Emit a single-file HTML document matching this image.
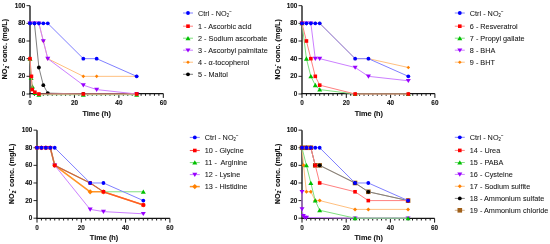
<!DOCTYPE html>
<html><head><meta charset="utf-8"><title>NO2 conc.</title>
<style>
html,body{margin:0;padding:0;background:#fff;width:550px;height:244px;overflow:hidden;}
svg{display:block;will-change:transform;}
text{font-family:"Liberation Sans",sans-serif;fill:#111;}
.tl{font-size:6.65px;font-weight:bold;stroke:#111;stroke-width:0.1px;}
.tt{font-size:7.9px;font-weight:bold;stroke:#111;stroke-width:0.1px;}
.yt{font-size:7.3px;font-weight:bold;stroke:#111;stroke-width:0.1px;}
.sub,.sup{font-size:4.8px;}
.lg{font-size:7.9px;fill:#151515;stroke:#151515;stroke-width:0.06px;}
.lsub,.lsup{font-size:4.6px;}
</style></head>
<body>
<svg width="550" height="244" viewBox="0 0 550 244">
<rect width="550" height="244" fill="#fff"/>
<path d="M30.00 5.66V94.10" stroke="#151515" stroke-width="1.35" fill="none"/>
<path d="M29.50 93.60H163.32" stroke="#151515" stroke-width="1.35" fill="none"/>
<path d="M26.50 94.00H30.00" stroke="#151515" stroke-width="0.9" fill="none"/>
<text transform="translate(25.40 96.10) scale(0.96 1)" class="tl" text-anchor="end">0</text>
<path d="M26.50 76.33H30.00" stroke="#151515" stroke-width="0.9" fill="none"/>
<text transform="translate(25.40 78.43) scale(0.96 1)" class="tl" text-anchor="end">20</text>
<path d="M26.50 58.66H30.00" stroke="#151515" stroke-width="0.9" fill="none"/>
<text transform="translate(25.40 60.76) scale(0.96 1)" class="tl" text-anchor="end">40</text>
<path d="M26.50 41.00H30.00" stroke="#151515" stroke-width="0.9" fill="none"/>
<text transform="translate(25.40 43.10) scale(0.96 1)" class="tl" text-anchor="end">60</text>
<path d="M26.50 23.33H30.00" stroke="#151515" stroke-width="0.9" fill="none"/>
<text transform="translate(25.40 25.43) scale(0.96 1)" class="tl" text-anchor="end">80</text>
<path d="M26.50 5.66H30.00" stroke="#151515" stroke-width="0.9" fill="none"/>
<text transform="translate(25.40 7.76) scale(0.96 1)" class="tl" text-anchor="end">100</text>
<path d="M30.00 93.60V97.90" stroke="#151515" stroke-width="1.0" fill="none"/>
<text transform="translate(30.00 105.40) scale(0.96 1)" class="tl" text-anchor="middle">0</text>
<path d="M34.44 93.60V95.80" stroke="#151515" stroke-width="1.0" fill="none"/>
<path d="M38.89 93.60V95.80" stroke="#151515" stroke-width="1.0" fill="none"/>
<path d="M43.33 93.60V95.80" stroke="#151515" stroke-width="1.0" fill="none"/>
<path d="M47.78 93.60V95.80" stroke="#151515" stroke-width="1.0" fill="none"/>
<path d="M52.22 93.60V95.80" stroke="#151515" stroke-width="1.0" fill="none"/>
<path d="M56.66 93.60V95.80" stroke="#151515" stroke-width="1.0" fill="none"/>
<path d="M61.11 93.60V95.80" stroke="#151515" stroke-width="1.0" fill="none"/>
<path d="M65.55 93.60V95.80" stroke="#151515" stroke-width="1.0" fill="none"/>
<path d="M70.00 93.60V95.80" stroke="#151515" stroke-width="1.0" fill="none"/>
<path d="M74.44 93.60V97.90" stroke="#151515" stroke-width="1.0" fill="none"/>
<text transform="translate(74.44 105.40) scale(0.96 1)" class="tl" text-anchor="middle">20</text>
<path d="M78.88 93.60V95.80" stroke="#151515" stroke-width="1.0" fill="none"/>
<path d="M83.33 93.60V95.80" stroke="#151515" stroke-width="1.0" fill="none"/>
<path d="M87.77 93.60V95.80" stroke="#151515" stroke-width="1.0" fill="none"/>
<path d="M92.22 93.60V95.80" stroke="#151515" stroke-width="1.0" fill="none"/>
<path d="M96.66 93.60V95.80" stroke="#151515" stroke-width="1.0" fill="none"/>
<path d="M101.10 93.60V95.80" stroke="#151515" stroke-width="1.0" fill="none"/>
<path d="M105.55 93.60V95.80" stroke="#151515" stroke-width="1.0" fill="none"/>
<path d="M109.99 93.60V95.80" stroke="#151515" stroke-width="1.0" fill="none"/>
<path d="M114.44 93.60V95.80" stroke="#151515" stroke-width="1.0" fill="none"/>
<path d="M118.88 93.60V97.90" stroke="#151515" stroke-width="1.0" fill="none"/>
<text transform="translate(118.88 105.40) scale(0.96 1)" class="tl" text-anchor="middle">40</text>
<path d="M123.32 93.60V95.80" stroke="#151515" stroke-width="1.0" fill="none"/>
<path d="M127.77 93.60V95.80" stroke="#151515" stroke-width="1.0" fill="none"/>
<path d="M132.21 93.60V95.80" stroke="#151515" stroke-width="1.0" fill="none"/>
<path d="M136.66 93.60V95.80" stroke="#151515" stroke-width="1.0" fill="none"/>
<path d="M141.10 93.60V95.80" stroke="#151515" stroke-width="1.0" fill="none"/>
<path d="M145.54 93.60V95.80" stroke="#151515" stroke-width="1.0" fill="none"/>
<path d="M149.99 93.60V95.80" stroke="#151515" stroke-width="1.0" fill="none"/>
<path d="M154.43 93.60V95.80" stroke="#151515" stroke-width="1.0" fill="none"/>
<path d="M158.88 93.60V95.80" stroke="#151515" stroke-width="1.0" fill="none"/>
<path d="M163.32 93.60V97.90" stroke="#151515" stroke-width="1.0" fill="none"/>
<text transform="translate(163.32 105.40) scale(0.96 1)" class="tl" text-anchor="middle">60</text>
<text transform="translate(96.66 115.55) scale(0.93 1)" class="tt" text-anchor="middle">Time (h)</text>
<text transform="translate(7.30 49.10) rotate(-90)" class="yt" text-anchor="middle">NO<tspan class="sub" dy="1.4">2</tspan><tspan class="sup" dy="-4.2">-</tspan><tspan dy="2.8"> conc. (mg/L)</tspan></text>
<path d="M30.00 23.33L34.44 23.33L38.89 67.50L43.33 85.17L47.78 93.12L83.33 94.00L136.66 94.00" fill="none" stroke="#808080" stroke-width="1.0" stroke-linejoin="round"/>
<circle cx="30.00" cy="23.33" r="1.9" fill="#000000"/>
<circle cx="34.44" cy="23.33" r="1.9" fill="#000000"/>
<circle cx="38.89" cy="67.50" r="1.9" fill="#000000"/>
<circle cx="43.33" cy="85.17" r="1.9" fill="#000000"/>
<circle cx="47.78" cy="93.12" r="1.9" fill="#000000"/>
<circle cx="83.33" cy="94.00" r="1.9" fill="#000000"/>
<circle cx="136.66" cy="94.00" r="1.9" fill="#000000"/>
<path d="M30.00 23.33L34.44 23.33L38.89 23.33L43.33 41.00L47.78 58.66L83.33 76.33L96.66 76.33L136.66 76.33" fill="none" stroke="#ffc080" stroke-width="1.0" stroke-linejoin="round"/>
<path d="M30.00 21.53L31.80 23.33L30.00 25.13L28.20 23.33Z" fill="#ff8000"/>
<path d="M34.44 21.53L36.24 23.33L34.44 25.13L32.64 23.33Z" fill="#ff8000"/>
<path d="M38.89 21.53L40.69 23.33L38.89 25.13L37.09 23.33Z" fill="#ff8000"/>
<path d="M43.33 39.20L45.13 41.00L43.33 42.80L41.53 41.00Z" fill="#ff8000"/>
<path d="M47.78 56.86L49.58 58.66L47.78 60.46L45.98 58.66Z" fill="#ff8000"/>
<path d="M83.33 74.53L85.13 76.33L83.33 78.13L81.53 76.33Z" fill="#ff8000"/>
<path d="M96.66 74.53L98.46 76.33L96.66 78.13L94.86 76.33Z" fill="#ff8000"/>
<path d="M136.66 74.53L138.46 76.33L136.66 78.13L134.86 76.33Z" fill="#ff8000"/>
<path d="M30.00 23.33L34.44 23.33L38.89 23.33L43.33 41.00L47.78 58.66L83.33 85.17L96.66 89.58L136.66 94.00" fill="none" stroke="#cc80ff" stroke-width="1.0" stroke-linejoin="round"/>
<path d="M30.00 25.63L32.50 21.53L27.50 21.53Z" fill="#9900ff"/>
<path d="M34.44 25.63L36.94 21.53L31.94 21.53Z" fill="#9900ff"/>
<path d="M38.89 25.63L41.39 21.53L36.39 21.53Z" fill="#9900ff"/>
<path d="M43.33 43.30L45.83 39.20L40.83 39.20Z" fill="#9900ff"/>
<path d="M47.78 60.96L50.28 56.86L45.28 56.86Z" fill="#9900ff"/>
<path d="M83.33 87.47L85.83 83.37L80.83 83.37Z" fill="#9900ff"/>
<path d="M96.66 91.88L99.16 87.78L94.16 87.78Z" fill="#9900ff"/>
<path d="M136.66 96.30L139.16 92.20L134.16 92.20Z" fill="#9900ff"/>
<path d="M30.00 58.66L31.11 78.10L32.44 86.49L34.89 92.94L38.89 94.71L83.33 94.71L136.66 94.71" fill="none" stroke="#80e080" stroke-width="1.0" stroke-linejoin="round"/>
<path d="M30.00 56.36L32.50 60.66L27.50 60.66Z" fill="#00c000"/>
<path d="M31.11 75.80L33.61 80.10L28.61 80.10Z" fill="#00c000"/>
<path d="M32.44 84.19L34.94 88.49L29.94 88.49Z" fill="#00c000"/>
<path d="M34.89 90.64L37.39 94.94L32.39 94.94Z" fill="#00c000"/>
<path d="M38.89 92.41L41.39 96.71L36.39 96.71Z" fill="#00c000"/>
<path d="M83.33 92.41L85.83 96.71L80.83 96.71Z" fill="#00c000"/>
<path d="M136.66 92.41L139.16 96.71L134.16 96.71Z" fill="#00c000"/>
<path d="M30.00 58.66L31.44 76.33L32.22 89.58L34.89 92.23L38.89 94.00L83.33 94.00L136.66 94.00" fill="none" stroke="#ff8080" stroke-width="1.0" stroke-linejoin="round"/>
<rect x="28.20" y="56.86" width="3.60" height="3.60" fill="#ff0000"/>
<rect x="29.64" y="74.53" width="3.60" height="3.60" fill="#ff0000"/>
<rect x="30.42" y="87.78" width="3.60" height="3.60" fill="#ff0000"/>
<rect x="33.09" y="90.43" width="3.60" height="3.60" fill="#ff0000"/>
<rect x="37.09" y="92.20" width="3.60" height="3.60" fill="#ff0000"/>
<rect x="81.53" y="92.20" width="3.60" height="3.60" fill="#ff0000"/>
<rect x="134.86" y="92.20" width="3.60" height="3.60" fill="#ff0000"/>
<path d="M30.00 23.33L34.44 23.33L38.89 23.33L43.33 23.33L47.78 23.33L83.33 58.66L96.66 58.66L136.66 76.33" fill="none" stroke="#8080ff" stroke-width="1.0" stroke-linejoin="round"/>
<circle cx="30.00" cy="23.33" r="1.9" fill="#0000ff"/>
<circle cx="34.44" cy="23.33" r="1.9" fill="#0000ff"/>
<circle cx="38.89" cy="23.33" r="1.9" fill="#0000ff"/>
<circle cx="43.33" cy="23.33" r="1.9" fill="#0000ff"/>
<circle cx="47.78" cy="23.33" r="1.9" fill="#0000ff"/>
<circle cx="83.33" cy="58.66" r="1.9" fill="#0000ff"/>
<circle cx="96.66" cy="58.66" r="1.9" fill="#0000ff"/>
<circle cx="136.66" cy="76.33" r="1.9" fill="#0000ff"/>
<path d="M183.00 13.00H193.00" stroke="#8080ff" stroke-width="1.0" fill="none"/>
<circle cx="188.00" cy="13.00" r="1.9" fill="#0000ff"/>
<text transform="translate(198.00 15.50) scale(0.925 1)" class="lg">Ctrl - NO<tspan class="lsub" dy="1.3">2</tspan><tspan class="lsup" dy="-4.3">−</tspan></text>
<path d="M183.00 26.20H193.00" stroke="#ff8080" stroke-width="1.0" fill="none"/>
<rect x="186.20" y="24.40" width="3.60" height="3.60" fill="#ff0000"/>
<text transform="translate(198.00 28.70) scale(0.925 1)" class="lg">1 - Ascorbic acid</text>
<path d="M183.00 38.20H193.00" stroke="#80e080" stroke-width="1.0" fill="none"/>
<path d="M188.00 35.90L190.50 40.20L185.50 40.20Z" fill="#00c000"/>
<text transform="translate(198.00 40.70) scale(0.925 1)" class="lg">2 - Sodium ascorbate</text>
<path d="M183.00 50.20H193.00" stroke="#cc80ff" stroke-width="1.0" fill="none"/>
<path d="M188.00 52.50L190.50 48.40L185.50 48.40Z" fill="#9900ff"/>
<text transform="translate(198.00 52.70) scale(0.925 1)" class="lg">3 - Ascorbyl palmitate</text>
<path d="M183.00 62.20H193.00" stroke="#ffc080" stroke-width="1.0" fill="none"/>
<path d="M188.00 60.40L189.80 62.20L188.00 64.00L186.20 62.20Z" fill="#ff8000"/>
<text transform="translate(198.00 64.70) scale(0.925 1)" class="lg">4 - α-tocopherol</text>
<path d="M183.00 74.30H193.00" stroke="#808080" stroke-width="1.0" fill="none"/>
<circle cx="188.00" cy="74.30" r="1.9" fill="#000000"/>
<text transform="translate(198.00 76.80) scale(0.925 1)" class="lg">5 - Maltol</text>
<path d="M302.00 5.66V94.10" stroke="#151515" stroke-width="1.35" fill="none"/>
<path d="M301.50 93.60H434.90" stroke="#151515" stroke-width="1.35" fill="none"/>
<path d="M298.50 94.00H302.00" stroke="#151515" stroke-width="0.9" fill="none"/>
<text transform="translate(297.40 96.10) scale(0.96 1)" class="tl" text-anchor="end">0</text>
<path d="M298.50 76.33H302.00" stroke="#151515" stroke-width="0.9" fill="none"/>
<text transform="translate(297.40 78.43) scale(0.96 1)" class="tl" text-anchor="end">20</text>
<path d="M298.50 58.66H302.00" stroke="#151515" stroke-width="0.9" fill="none"/>
<text transform="translate(297.40 60.76) scale(0.96 1)" class="tl" text-anchor="end">40</text>
<path d="M298.50 41.00H302.00" stroke="#151515" stroke-width="0.9" fill="none"/>
<text transform="translate(297.40 43.10) scale(0.96 1)" class="tl" text-anchor="end">60</text>
<path d="M298.50 23.33H302.00" stroke="#151515" stroke-width="0.9" fill="none"/>
<text transform="translate(297.40 25.43) scale(0.96 1)" class="tl" text-anchor="end">80</text>
<path d="M298.50 5.66H302.00" stroke="#151515" stroke-width="0.9" fill="none"/>
<text transform="translate(297.40 7.76) scale(0.96 1)" class="tl" text-anchor="end">100</text>
<path d="M302.00 93.60V97.90" stroke="#151515" stroke-width="1.0" fill="none"/>
<text transform="translate(302.00 105.40) scale(0.96 1)" class="tl" text-anchor="middle">0</text>
<path d="M306.43 93.60V95.80" stroke="#151515" stroke-width="1.0" fill="none"/>
<path d="M310.86 93.60V95.80" stroke="#151515" stroke-width="1.0" fill="none"/>
<path d="M315.29 93.60V95.80" stroke="#151515" stroke-width="1.0" fill="none"/>
<path d="M319.72 93.60V95.80" stroke="#151515" stroke-width="1.0" fill="none"/>
<path d="M324.15 93.60V95.80" stroke="#151515" stroke-width="1.0" fill="none"/>
<path d="M328.58 93.60V95.80" stroke="#151515" stroke-width="1.0" fill="none"/>
<path d="M333.01 93.60V95.80" stroke="#151515" stroke-width="1.0" fill="none"/>
<path d="M337.44 93.60V95.80" stroke="#151515" stroke-width="1.0" fill="none"/>
<path d="M341.87 93.60V95.80" stroke="#151515" stroke-width="1.0" fill="none"/>
<path d="M346.30 93.60V97.90" stroke="#151515" stroke-width="1.0" fill="none"/>
<text transform="translate(346.30 105.40) scale(0.96 1)" class="tl" text-anchor="middle">20</text>
<path d="M350.73 93.60V95.80" stroke="#151515" stroke-width="1.0" fill="none"/>
<path d="M355.16 93.60V95.80" stroke="#151515" stroke-width="1.0" fill="none"/>
<path d="M359.59 93.60V95.80" stroke="#151515" stroke-width="1.0" fill="none"/>
<path d="M364.02 93.60V95.80" stroke="#151515" stroke-width="1.0" fill="none"/>
<path d="M368.45 93.60V95.80" stroke="#151515" stroke-width="1.0" fill="none"/>
<path d="M372.88 93.60V95.80" stroke="#151515" stroke-width="1.0" fill="none"/>
<path d="M377.31 93.60V95.80" stroke="#151515" stroke-width="1.0" fill="none"/>
<path d="M381.74 93.60V95.80" stroke="#151515" stroke-width="1.0" fill="none"/>
<path d="M386.17 93.60V95.80" stroke="#151515" stroke-width="1.0" fill="none"/>
<path d="M390.60 93.60V97.90" stroke="#151515" stroke-width="1.0" fill="none"/>
<text transform="translate(390.60 105.40) scale(0.96 1)" class="tl" text-anchor="middle">40</text>
<path d="M395.03 93.60V95.80" stroke="#151515" stroke-width="1.0" fill="none"/>
<path d="M399.46 93.60V95.80" stroke="#151515" stroke-width="1.0" fill="none"/>
<path d="M403.89 93.60V95.80" stroke="#151515" stroke-width="1.0" fill="none"/>
<path d="M408.32 93.60V95.80" stroke="#151515" stroke-width="1.0" fill="none"/>
<path d="M412.75 93.60V95.80" stroke="#151515" stroke-width="1.0" fill="none"/>
<path d="M417.18 93.60V95.80" stroke="#151515" stroke-width="1.0" fill="none"/>
<path d="M421.61 93.60V95.80" stroke="#151515" stroke-width="1.0" fill="none"/>
<path d="M426.04 93.60V95.80" stroke="#151515" stroke-width="1.0" fill="none"/>
<path d="M430.47 93.60V95.80" stroke="#151515" stroke-width="1.0" fill="none"/>
<path d="M434.90 93.60V97.90" stroke="#151515" stroke-width="1.0" fill="none"/>
<text transform="translate(434.90 105.40) scale(0.96 1)" class="tl" text-anchor="middle">60</text>
<text transform="translate(368.85 115.55) scale(0.93 1)" class="tt" text-anchor="middle">Time (h)</text>
<text transform="translate(279.80 49.50) rotate(-90)" class="yt" text-anchor="middle">NO<tspan class="sub" dy="1.4">2</tspan><tspan class="sup" dy="-4.2">-</tspan><tspan dy="2.8"> conc. (mg/L)</tspan></text>
<path d="M302.00 23.33L306.43 23.33L310.86 23.33L315.29 23.33L319.72 23.33L355.16 58.66L368.45 58.66L408.32 67.50" fill="none" stroke="#ffc080" stroke-width="1.0" stroke-linejoin="round"/>
<path d="M302.00 21.53L303.80 23.33L302.00 25.13L300.20 23.33Z" fill="#ff8000"/>
<path d="M306.43 21.53L308.23 23.33L306.43 25.13L304.63 23.33Z" fill="#ff8000"/>
<path d="M310.86 21.53L312.66 23.33L310.86 25.13L309.06 23.33Z" fill="#ff8000"/>
<path d="M315.29 21.53L317.09 23.33L315.29 25.13L313.49 23.33Z" fill="#ff8000"/>
<path d="M319.72 21.53L321.52 23.33L319.72 25.13L317.92 23.33Z" fill="#ff8000"/>
<path d="M355.16 56.86L356.96 58.66L355.16 60.46L353.36 58.66Z" fill="#ff8000"/>
<path d="M368.45 56.86L370.25 58.66L368.45 60.46L366.65 58.66Z" fill="#ff8000"/>
<path d="M408.32 65.70L410.12 67.50L408.32 69.30L406.52 67.50Z" fill="#ff8000"/>
<path d="M302.00 23.33L306.43 23.33L310.86 23.33L315.29 58.66L319.72 58.66L355.16 67.50L368.45 76.33L408.32 80.75" fill="none" stroke="#cc80ff" stroke-width="1.0" stroke-linejoin="round"/>
<path d="M302.00 25.63L304.50 21.53L299.50 21.53Z" fill="#9900ff"/>
<path d="M306.43 25.63L308.93 21.53L303.93 21.53Z" fill="#9900ff"/>
<path d="M310.86 25.63L313.36 21.53L308.36 21.53Z" fill="#9900ff"/>
<path d="M315.29 60.96L317.79 56.86L312.79 56.86Z" fill="#9900ff"/>
<path d="M319.72 60.96L322.22 56.86L317.22 56.86Z" fill="#9900ff"/>
<path d="M355.16 69.80L357.66 65.70L352.66 65.70Z" fill="#9900ff"/>
<path d="M368.45 78.63L370.95 74.53L365.95 74.53Z" fill="#9900ff"/>
<path d="M408.32 83.05L410.82 78.95L405.82 78.95Z" fill="#9900ff"/>
<path d="M302.00 23.33L306.43 58.66L310.86 76.33L315.29 85.17L319.72 89.58L355.16 94.00L408.32 94.00" fill="none" stroke="#80e080" stroke-width="1.0" stroke-linejoin="round"/>
<path d="M302.00 21.03L304.50 25.33L299.50 25.33Z" fill="#00c000"/>
<path d="M306.43 56.36L308.93 60.66L303.93 60.66Z" fill="#00c000"/>
<path d="M310.86 74.03L313.36 78.33L308.36 78.33Z" fill="#00c000"/>
<path d="M315.29 82.87L317.79 87.17L312.79 87.17Z" fill="#00c000"/>
<path d="M319.72 87.28L322.22 91.58L317.22 91.58Z" fill="#00c000"/>
<path d="M355.16 91.70L357.66 96.00L352.66 96.00Z" fill="#00c000"/>
<path d="M408.32 91.70L410.82 96.00L405.82 96.00Z" fill="#00c000"/>
<path d="M302.00 23.33L306.43 41.00L310.86 58.66L315.29 76.33L319.72 85.17L355.16 94.00L408.32 94.00" fill="none" stroke="#ff8080" stroke-width="1.0" stroke-linejoin="round"/>
<rect x="300.20" y="21.53" width="3.60" height="3.60" fill="#ff0000"/>
<rect x="304.63" y="39.20" width="3.60" height="3.60" fill="#ff0000"/>
<rect x="309.06" y="56.86" width="3.60" height="3.60" fill="#ff0000"/>
<rect x="313.49" y="74.53" width="3.60" height="3.60" fill="#ff0000"/>
<rect x="317.92" y="83.37" width="3.60" height="3.60" fill="#ff0000"/>
<rect x="353.36" y="92.20" width="3.60" height="3.60" fill="#ff0000"/>
<rect x="406.52" y="92.20" width="3.60" height="3.60" fill="#ff0000"/>
<path d="M302.00 23.33L306.43 23.33L310.86 23.33L315.29 23.33L319.72 23.33L355.16 58.66L368.45 58.66L408.32 76.33" fill="none" stroke="#8080ff" stroke-width="1.0" stroke-linejoin="round"/>
<circle cx="302.00" cy="23.33" r="1.9" fill="#0000ff"/>
<circle cx="306.43" cy="23.33" r="1.9" fill="#0000ff"/>
<circle cx="310.86" cy="23.33" r="1.9" fill="#0000ff"/>
<circle cx="315.29" cy="23.33" r="1.9" fill="#0000ff"/>
<circle cx="319.72" cy="23.33" r="1.9" fill="#0000ff"/>
<circle cx="355.16" cy="58.66" r="1.9" fill="#0000ff"/>
<circle cx="368.45" cy="58.66" r="1.9" fill="#0000ff"/>
<circle cx="408.32" cy="76.33" r="1.9" fill="#0000ff"/>
<path d="M454.80 13.00H464.80" stroke="#8080ff" stroke-width="1.0" fill="none"/>
<circle cx="459.80" cy="13.00" r="1.9" fill="#0000ff"/>
<text transform="translate(469.80 15.50) scale(0.925 1)" class="lg">Ctrl - NO<tspan class="lsub" dy="1.3">2</tspan><tspan class="lsup" dy="-4.3">−</tspan></text>
<path d="M454.80 26.20H464.80" stroke="#ff8080" stroke-width="1.0" fill="none"/>
<rect x="458.00" y="24.40" width="3.60" height="3.60" fill="#ff0000"/>
<text transform="translate(469.80 28.70) scale(0.925 1)" class="lg">6 - Resveratrol</text>
<path d="M454.80 38.20H464.80" stroke="#80e080" stroke-width="1.0" fill="none"/>
<path d="M459.80 35.90L462.30 40.20L457.30 40.20Z" fill="#00c000"/>
<text transform="translate(469.80 40.70) scale(0.925 1)" class="lg">7 - Propyl gallate</text>
<path d="M454.80 50.20H464.80" stroke="#cc80ff" stroke-width="1.0" fill="none"/>
<path d="M459.80 52.50L462.30 48.40L457.30 48.40Z" fill="#9900ff"/>
<text transform="translate(469.80 52.70) scale(0.925 1)" class="lg">8 - BHA</text>
<path d="M454.80 62.20H464.80" stroke="#ffc080" stroke-width="1.0" fill="none"/>
<path d="M459.80 60.40L461.60 62.20L459.80 64.00L458.00 62.20Z" fill="#ff8000"/>
<text transform="translate(469.80 64.70) scale(0.925 1)" class="lg">9 - BHT</text>
<path d="M37.00 130.15V218.80" stroke="#151515" stroke-width="1.35" fill="none"/>
<path d="M36.50 218.30H169.90" stroke="#151515" stroke-width="1.35" fill="none"/>
<path d="M33.50 218.20H37.00" stroke="#151515" stroke-width="0.9" fill="none"/>
<text transform="translate(32.40 220.30) scale(0.96 1)" class="tl" text-anchor="end">0</text>
<path d="M33.50 200.59H37.00" stroke="#151515" stroke-width="0.9" fill="none"/>
<text transform="translate(32.40 202.69) scale(0.96 1)" class="tl" text-anchor="end">20</text>
<path d="M33.50 182.98H37.00" stroke="#151515" stroke-width="0.9" fill="none"/>
<text transform="translate(32.40 185.08) scale(0.96 1)" class="tl" text-anchor="end">40</text>
<path d="M33.50 165.37H37.00" stroke="#151515" stroke-width="0.9" fill="none"/>
<text transform="translate(32.40 167.47) scale(0.96 1)" class="tl" text-anchor="end">60</text>
<path d="M33.50 147.76H37.00" stroke="#151515" stroke-width="0.9" fill="none"/>
<text transform="translate(32.40 149.86) scale(0.96 1)" class="tl" text-anchor="end">80</text>
<path d="M33.50 130.15H37.00" stroke="#151515" stroke-width="0.9" fill="none"/>
<text transform="translate(32.40 132.25) scale(0.96 1)" class="tl" text-anchor="end">100</text>
<path d="M37.00 218.30V222.60" stroke="#151515" stroke-width="1.0" fill="none"/>
<text transform="translate(37.00 229.60) scale(0.96 1)" class="tl" text-anchor="middle">0</text>
<path d="M41.43 218.30V220.50" stroke="#151515" stroke-width="1.0" fill="none"/>
<path d="M45.86 218.30V220.50" stroke="#151515" stroke-width="1.0" fill="none"/>
<path d="M50.29 218.30V220.50" stroke="#151515" stroke-width="1.0" fill="none"/>
<path d="M54.72 218.30V220.50" stroke="#151515" stroke-width="1.0" fill="none"/>
<path d="M59.15 218.30V220.50" stroke="#151515" stroke-width="1.0" fill="none"/>
<path d="M63.58 218.30V220.50" stroke="#151515" stroke-width="1.0" fill="none"/>
<path d="M68.01 218.30V220.50" stroke="#151515" stroke-width="1.0" fill="none"/>
<path d="M72.44 218.30V220.50" stroke="#151515" stroke-width="1.0" fill="none"/>
<path d="M76.87 218.30V220.50" stroke="#151515" stroke-width="1.0" fill="none"/>
<path d="M81.30 218.30V222.60" stroke="#151515" stroke-width="1.0" fill="none"/>
<text transform="translate(81.30 229.60) scale(0.96 1)" class="tl" text-anchor="middle">20</text>
<path d="M85.73 218.30V220.50" stroke="#151515" stroke-width="1.0" fill="none"/>
<path d="M90.16 218.30V220.50" stroke="#151515" stroke-width="1.0" fill="none"/>
<path d="M94.59 218.30V220.50" stroke="#151515" stroke-width="1.0" fill="none"/>
<path d="M99.02 218.30V220.50" stroke="#151515" stroke-width="1.0" fill="none"/>
<path d="M103.45 218.30V220.50" stroke="#151515" stroke-width="1.0" fill="none"/>
<path d="M107.88 218.30V220.50" stroke="#151515" stroke-width="1.0" fill="none"/>
<path d="M112.31 218.30V220.50" stroke="#151515" stroke-width="1.0" fill="none"/>
<path d="M116.74 218.30V220.50" stroke="#151515" stroke-width="1.0" fill="none"/>
<path d="M121.17 218.30V220.50" stroke="#151515" stroke-width="1.0" fill="none"/>
<path d="M125.60 218.30V222.60" stroke="#151515" stroke-width="1.0" fill="none"/>
<text transform="translate(125.60 229.60) scale(0.96 1)" class="tl" text-anchor="middle">40</text>
<path d="M130.03 218.30V220.50" stroke="#151515" stroke-width="1.0" fill="none"/>
<path d="M134.46 218.30V220.50" stroke="#151515" stroke-width="1.0" fill="none"/>
<path d="M138.89 218.30V220.50" stroke="#151515" stroke-width="1.0" fill="none"/>
<path d="M143.32 218.30V220.50" stroke="#151515" stroke-width="1.0" fill="none"/>
<path d="M147.75 218.30V220.50" stroke="#151515" stroke-width="1.0" fill="none"/>
<path d="M152.18 218.30V220.50" stroke="#151515" stroke-width="1.0" fill="none"/>
<path d="M156.61 218.30V220.50" stroke="#151515" stroke-width="1.0" fill="none"/>
<path d="M161.04 218.30V220.50" stroke="#151515" stroke-width="1.0" fill="none"/>
<path d="M165.47 218.30V220.50" stroke="#151515" stroke-width="1.0" fill="none"/>
<path d="M169.90 218.30V222.60" stroke="#151515" stroke-width="1.0" fill="none"/>
<text transform="translate(169.90 229.60) scale(0.96 1)" class="tl" text-anchor="middle">60</text>
<text transform="translate(104.05 240.25) scale(0.93 1)" class="tt" text-anchor="middle">Time (h)</text>
<text transform="translate(14.20 174.00) rotate(-90)" class="yt" text-anchor="middle">NO<tspan class="sub" dy="1.4">2</tspan><tspan class="sup" dy="-4.2">-</tspan><tspan dy="2.8"> conc. (mg/L)</tspan></text>
<path d="M37.00 147.76L41.43 147.76L45.86 147.76L50.29 147.76L54.72 165.37L90.16 191.78L103.45 191.78L143.32 204.99" fill="none" stroke="#ff9326" stroke-width="1.6" stroke-linejoin="round"/>
<path d="M37.00 145.16L39.60 147.76L37.00 150.36L34.40 147.76Z" fill="#ff8000"/>
<path d="M41.43 145.16L44.03 147.76L41.43 150.36L38.83 147.76Z" fill="#ff8000"/>
<path d="M45.86 145.16L48.46 147.76L45.86 150.36L43.26 147.76Z" fill="#ff8000"/>
<path d="M50.29 145.16L52.89 147.76L50.29 150.36L47.69 147.76Z" fill="#ff8000"/>
<path d="M54.72 162.77L57.32 165.37L54.72 167.97L52.12 165.37Z" fill="#ff8000"/>
<path d="M90.16 189.19L92.76 191.78L90.16 194.38L87.56 191.78Z" fill="#ff8000"/>
<path d="M103.45 189.19L106.05 191.78L103.45 194.38L100.85 191.78Z" fill="#ff8000"/>
<path d="M143.32 202.39L145.92 204.99L143.32 207.59L140.72 204.99Z" fill="#ff8000"/>
<path d="M37.00 147.76L41.43 147.76L45.86 147.76L50.29 147.76L54.72 165.37L90.16 209.39L103.45 211.60L143.32 213.80" fill="none" stroke="#cc80ff" stroke-width="1.0" stroke-linejoin="round"/>
<path d="M37.00 150.06L39.50 145.96L34.50 145.96Z" fill="#9900ff"/>
<path d="M41.43 150.06L43.93 145.96L38.93 145.96Z" fill="#9900ff"/>
<path d="M45.86 150.06L48.36 145.96L43.36 145.96Z" fill="#9900ff"/>
<path d="M50.29 150.06L52.79 145.96L47.79 145.96Z" fill="#9900ff"/>
<path d="M54.72 167.67L57.22 163.57L52.22 163.57Z" fill="#9900ff"/>
<path d="M90.16 211.69L92.66 207.59L87.66 207.59Z" fill="#9900ff"/>
<path d="M103.45 213.90L105.95 209.80L100.95 209.80Z" fill="#9900ff"/>
<path d="M143.32 216.10L145.82 212.00L140.82 212.00Z" fill="#9900ff"/>
<path d="M37.00 147.76L41.43 147.76L45.86 147.76L50.29 147.76L54.72 165.37L90.16 182.98L103.45 191.78L143.32 191.78" fill="none" stroke="#80e080" stroke-width="1.0" stroke-linejoin="round"/>
<path d="M143.32 189.48L145.82 193.78L140.82 193.78Z" fill="#00c000"/>
<path d="M37.00 147.76L41.43 147.76L45.86 147.76L50.29 147.76L54.72 165.37L90.16 182.98L103.45 191.78" fill="none" stroke="#d4603c" stroke-width="1.2" stroke-linejoin="round"/>
<path d="M103.45 191.78L143.32 204.99" fill="none" stroke="#ff5a2a" stroke-width="1.3" stroke-linejoin="round"/>
<path d="M37.00 147.76L41.43 147.76L45.86 147.76L50.29 147.76L54.72 165.37L90.16 182.98L103.45 191.78L143.32 204.99" fill="none" stroke="#ff8080" stroke-width="0" stroke-linejoin="round"/>
<rect x="35.20" y="145.96" width="3.60" height="3.60" fill="#ff0000"/>
<rect x="39.63" y="145.96" width="3.60" height="3.60" fill="#ff0000"/>
<rect x="44.06" y="145.96" width="3.60" height="3.60" fill="#ff0000"/>
<rect x="48.49" y="145.96" width="3.60" height="3.60" fill="#ff0000"/>
<rect x="52.92" y="163.57" width="3.60" height="3.60" fill="#ff0000"/>
<rect x="88.36" y="181.18" width="3.60" height="3.60" fill="#ff0000"/>
<rect x="101.65" y="189.98" width="3.60" height="3.60" fill="#ff0000"/>
<rect x="141.52" y="203.19" width="3.60" height="3.60" fill="#ff0000"/>
<path d="M37.00 147.76L41.43 147.76L45.86 147.76L50.29 147.76L54.72 147.76L90.16 182.98L103.45 182.98L143.32 200.59" fill="none" stroke="#8080ff" stroke-width="1.0" stroke-linejoin="round"/>
<circle cx="37.00" cy="147.76" r="1.9" fill="#0000ff"/>
<circle cx="41.43" cy="147.76" r="1.9" fill="#0000ff"/>
<circle cx="45.86" cy="147.76" r="1.9" fill="#0000ff"/>
<circle cx="50.29" cy="147.76" r="1.9" fill="#0000ff"/>
<circle cx="54.72" cy="147.76" r="1.9" fill="#0000ff"/>
<circle cx="90.16" cy="182.98" r="1.9" fill="#0000ff"/>
<circle cx="103.45" cy="182.98" r="1.9" fill="#0000ff"/>
<circle cx="143.32" cy="200.59" r="1.9" fill="#0000ff"/>
<path d="M189.80 137.40H199.80" stroke="#8080ff" stroke-width="1.0" fill="none"/>
<circle cx="194.80" cy="137.40" r="1.9" fill="#0000ff"/>
<text transform="translate(204.80 139.90) scale(0.925 1)" class="lg">Ctrl - NO<tspan class="lsub" dy="1.3">2</tspan><tspan class="lsup" dy="-4.3">−</tspan></text>
<path d="M189.80 150.50H199.80" stroke="#ff4d4d" stroke-width="1.1" fill="none"/>
<rect x="193.00" y="148.70" width="3.60" height="3.60" fill="#ff0000"/>
<text transform="translate(204.80 153.00) scale(0.925 1)" class="lg">10 - Glycine</text>
<path d="M189.80 162.60H199.80" stroke="#80e080" stroke-width="1.0" fill="none"/>
<path d="M194.80 160.30L197.30 164.60L192.30 164.60Z" fill="#00c000"/>
<text transform="translate(204.80 165.10) scale(0.925 1)" class="lg">11 -  Arginine</text>
<path d="M189.80 174.60H199.80" stroke="#cc80ff" stroke-width="1.0" fill="none"/>
<path d="M194.80 176.90L197.30 172.80L192.30 172.80Z" fill="#9900ff"/>
<text transform="translate(204.80 177.10) scale(0.925 1)" class="lg">12 - Lysine</text>
<path d="M189.80 186.60H199.80" stroke="#ff9326" stroke-width="1.5" fill="none"/>
<path d="M194.80 184.00L197.40 186.60L194.80 189.20L192.20 186.60Z" fill="#ff8000"/>
<text transform="translate(204.80 189.10) scale(0.925 1)" class="lg">13 - Histidine</text>
<path d="M302.00 130.15V218.80" stroke="#151515" stroke-width="1.35" fill="none"/>
<path d="M301.50 218.30H434.60" stroke="#151515" stroke-width="1.35" fill="none"/>
<path d="M298.50 218.20H302.00" stroke="#151515" stroke-width="0.9" fill="none"/>
<text transform="translate(297.40 220.30) scale(0.96 1)" class="tl" text-anchor="end">0</text>
<path d="M298.50 200.59H302.00" stroke="#151515" stroke-width="0.9" fill="none"/>
<text transform="translate(297.40 202.69) scale(0.96 1)" class="tl" text-anchor="end">20</text>
<path d="M298.50 182.98H302.00" stroke="#151515" stroke-width="0.9" fill="none"/>
<text transform="translate(297.40 185.08) scale(0.96 1)" class="tl" text-anchor="end">40</text>
<path d="M298.50 165.37H302.00" stroke="#151515" stroke-width="0.9" fill="none"/>
<text transform="translate(297.40 167.47) scale(0.96 1)" class="tl" text-anchor="end">60</text>
<path d="M298.50 147.76H302.00" stroke="#151515" stroke-width="0.9" fill="none"/>
<text transform="translate(297.40 149.86) scale(0.96 1)" class="tl" text-anchor="end">80</text>
<path d="M298.50 130.15H302.00" stroke="#151515" stroke-width="0.9" fill="none"/>
<text transform="translate(297.40 132.25) scale(0.96 1)" class="tl" text-anchor="end">100</text>
<path d="M302.00 218.30V222.60" stroke="#151515" stroke-width="1.0" fill="none"/>
<text transform="translate(302.00 229.60) scale(0.96 1)" class="tl" text-anchor="middle">0</text>
<path d="M306.42 218.30V220.50" stroke="#151515" stroke-width="1.0" fill="none"/>
<path d="M310.84 218.30V220.50" stroke="#151515" stroke-width="1.0" fill="none"/>
<path d="M315.26 218.30V220.50" stroke="#151515" stroke-width="1.0" fill="none"/>
<path d="M319.68 218.30V220.50" stroke="#151515" stroke-width="1.0" fill="none"/>
<path d="M324.10 218.30V220.50" stroke="#151515" stroke-width="1.0" fill="none"/>
<path d="M328.52 218.30V220.50" stroke="#151515" stroke-width="1.0" fill="none"/>
<path d="M332.94 218.30V220.50" stroke="#151515" stroke-width="1.0" fill="none"/>
<path d="M337.36 218.30V220.50" stroke="#151515" stroke-width="1.0" fill="none"/>
<path d="M341.78 218.30V220.50" stroke="#151515" stroke-width="1.0" fill="none"/>
<path d="M346.20 218.30V222.60" stroke="#151515" stroke-width="1.0" fill="none"/>
<text transform="translate(346.20 229.60) scale(0.96 1)" class="tl" text-anchor="middle">20</text>
<path d="M350.62 218.30V220.50" stroke="#151515" stroke-width="1.0" fill="none"/>
<path d="M355.04 218.30V220.50" stroke="#151515" stroke-width="1.0" fill="none"/>
<path d="M359.46 218.30V220.50" stroke="#151515" stroke-width="1.0" fill="none"/>
<path d="M363.88 218.30V220.50" stroke="#151515" stroke-width="1.0" fill="none"/>
<path d="M368.30 218.30V220.50" stroke="#151515" stroke-width="1.0" fill="none"/>
<path d="M372.72 218.30V220.50" stroke="#151515" stroke-width="1.0" fill="none"/>
<path d="M377.14 218.30V220.50" stroke="#151515" stroke-width="1.0" fill="none"/>
<path d="M381.56 218.30V220.50" stroke="#151515" stroke-width="1.0" fill="none"/>
<path d="M385.98 218.30V220.50" stroke="#151515" stroke-width="1.0" fill="none"/>
<path d="M390.40 218.30V222.60" stroke="#151515" stroke-width="1.0" fill="none"/>
<text transform="translate(390.40 229.60) scale(0.96 1)" class="tl" text-anchor="middle">40</text>
<path d="M394.82 218.30V220.50" stroke="#151515" stroke-width="1.0" fill="none"/>
<path d="M399.24 218.30V220.50" stroke="#151515" stroke-width="1.0" fill="none"/>
<path d="M403.66 218.30V220.50" stroke="#151515" stroke-width="1.0" fill="none"/>
<path d="M408.08 218.30V220.50" stroke="#151515" stroke-width="1.0" fill="none"/>
<path d="M412.50 218.30V220.50" stroke="#151515" stroke-width="1.0" fill="none"/>
<path d="M416.92 218.30V220.50" stroke="#151515" stroke-width="1.0" fill="none"/>
<path d="M421.34 218.30V220.50" stroke="#151515" stroke-width="1.0" fill="none"/>
<path d="M425.76 218.30V220.50" stroke="#151515" stroke-width="1.0" fill="none"/>
<path d="M430.18 218.30V220.50" stroke="#151515" stroke-width="1.0" fill="none"/>
<path d="M434.60 218.30V222.60" stroke="#151515" stroke-width="1.0" fill="none"/>
<text transform="translate(434.60 229.60) scale(0.96 1)" class="tl" text-anchor="middle">60</text>
<text transform="translate(368.70 240.25) scale(0.93 1)" class="tt" text-anchor="middle">Time (h)</text>
<text transform="translate(279.80 174.00) rotate(-90)" class="yt" text-anchor="middle">NO<tspan class="sub" dy="1.4">2</tspan><tspan class="sup" dy="-4.2">-</tspan><tspan dy="2.8"> conc. (mg/L)</tspan></text>
<path d="M302.00 147.76L306.42 147.76L310.84 147.76L315.26 165.37L319.68 165.37L355.04 182.98L368.30 191.78L408.08 200.59" fill="none" stroke="#d0b08c" stroke-width="1.0" stroke-linejoin="round"/>
<rect x="299.70" y="145.46" width="4.60" height="4.60" fill="#a0601a"/>
<rect x="304.12" y="145.46" width="4.60" height="4.60" fill="#a0601a"/>
<rect x="308.54" y="145.46" width="4.60" height="4.60" fill="#a0601a"/>
<rect x="312.96" y="163.07" width="4.60" height="4.60" fill="#a0601a"/>
<rect x="317.38" y="163.07" width="4.60" height="4.60" fill="#a0601a"/>
<rect x="352.74" y="180.68" width="4.60" height="4.60" fill="#a0601a"/>
<rect x="366.00" y="189.48" width="4.60" height="4.60" fill="#a0601a"/>
<rect x="405.78" y="198.29" width="4.60" height="4.60" fill="#a0601a"/>
<path d="M302.00 147.76L306.42 147.76L310.84 147.76L315.26 165.37L319.68 165.37L355.04 182.98L368.30 191.78L408.08 200.59" fill="none" stroke="#808080" stroke-width="1.0" stroke-linejoin="round"/>
<circle cx="302.00" cy="147.76" r="1.9" fill="#000000"/>
<circle cx="306.42" cy="147.76" r="1.9" fill="#000000"/>
<circle cx="310.84" cy="147.76" r="1.9" fill="#000000"/>
<circle cx="315.26" cy="165.37" r="1.9" fill="#000000"/>
<circle cx="319.68" cy="165.37" r="1.9" fill="#000000"/>
<circle cx="355.04" cy="182.98" r="1.9" fill="#000000"/>
<circle cx="368.30" cy="191.78" r="1.9" fill="#000000"/>
<circle cx="408.08" cy="200.59" r="1.9" fill="#000000"/>
<path d="M302.00 147.76L303.55 165.37L306.42 191.78L310.84 191.78L315.26 200.59L319.68 200.59L355.04 209.39L368.30 209.39L408.08 209.39" fill="none" stroke="#ffc080" stroke-width="1.0" stroke-linejoin="round"/>
<path d="M302.00 145.76L304.00 147.76L302.00 149.76L300.00 147.76Z" fill="#ff8000"/>
<path d="M303.55 163.37L305.55 165.37L303.55 167.37L301.55 165.37Z" fill="#ff8000"/>
<path d="M306.42 189.78L308.42 191.78L306.42 193.78L304.42 191.78Z" fill="#ff8000"/>
<path d="M310.84 189.78L312.84 191.78L310.84 193.78L308.84 191.78Z" fill="#ff8000"/>
<path d="M315.26 198.59L317.26 200.59L315.26 202.59L313.26 200.59Z" fill="#ff8000"/>
<path d="M319.68 198.59L321.68 200.59L319.68 202.59L317.68 200.59Z" fill="#ff8000"/>
<path d="M355.04 207.39L357.04 209.39L355.04 211.39L353.04 209.39Z" fill="#ff8000"/>
<path d="M368.30 207.39L370.30 209.39L368.30 211.39L366.30 209.39Z" fill="#ff8000"/>
<path d="M408.08 207.39L410.08 209.39L408.08 211.39L406.08 209.39Z" fill="#ff8000"/>
<path d="M302.00 191.78L302.00 208.95L303.33 215.91L304.65 217.50L306.53 217.50L355.04 218.20L408.08 218.20" fill="none" stroke="#cc80ff" stroke-width="1.0" stroke-linejoin="round"/>
<path d="M302.00 194.09L304.50 189.98L299.50 189.98Z" fill="#9900ff"/>
<path d="M302.00 211.25L304.50 207.15L299.50 207.15Z" fill="#9900ff"/>
<path d="M303.33 218.21L305.83 214.11L300.83 214.11Z" fill="#9900ff"/>
<path d="M304.65 219.80L307.15 215.70L302.15 215.70Z" fill="#9900ff"/>
<path d="M306.53 219.80L309.03 215.70L304.03 215.70Z" fill="#9900ff"/>
<path d="M355.04 220.50L357.54 216.40L352.54 216.40Z" fill="#9900ff"/>
<path d="M408.08 220.50L410.58 216.40L405.58 216.40Z" fill="#9900ff"/>
<path d="M302.00 147.76L306.42 165.37L310.84 182.98L315.26 200.59L319.68 210.28L355.04 218.20L408.08 218.20" fill="none" stroke="#80e080" stroke-width="1.0" stroke-linejoin="round"/>
<path d="M302.00 145.46L304.50 149.76L299.50 149.76Z" fill="#00c000"/>
<path d="M306.42 163.07L308.92 167.37L303.92 167.37Z" fill="#00c000"/>
<path d="M310.84 180.68L313.34 184.98L308.34 184.98Z" fill="#00c000"/>
<path d="M315.26 198.29L317.76 202.59L312.76 202.59Z" fill="#00c000"/>
<path d="M319.68 207.98L322.18 212.28L317.18 212.28Z" fill="#00c000"/>
<path d="M355.04 215.90L357.54 220.20L352.54 220.20Z" fill="#00c000"/>
<path d="M408.08 215.90L410.58 220.20L405.58 220.20Z" fill="#00c000"/>
<path d="M302.00 147.76L306.42 147.76L310.84 147.76L315.26 165.37L319.68 182.98L355.04 191.78L368.30 200.59L408.08 200.59" fill="none" stroke="#ff8080" stroke-width="1.0" stroke-linejoin="round"/>
<rect x="300.20" y="145.96" width="3.60" height="3.60" fill="#ff0000"/>
<rect x="304.62" y="145.96" width="3.60" height="3.60" fill="#ff0000"/>
<rect x="309.04" y="145.96" width="3.60" height="3.60" fill="#ff0000"/>
<rect x="313.46" y="163.57" width="3.60" height="3.60" fill="#ff0000"/>
<rect x="317.88" y="181.18" width="3.60" height="3.60" fill="#ff0000"/>
<rect x="353.24" y="189.98" width="3.60" height="3.60" fill="#ff0000"/>
<rect x="366.50" y="198.79" width="3.60" height="3.60" fill="#ff0000"/>
<rect x="406.28" y="198.79" width="3.60" height="3.60" fill="#ff0000"/>
<path d="M302.00 147.76L306.42 147.76L310.84 147.76L315.26 147.76L319.68 147.76L355.04 182.98L368.30 182.98L408.08 200.59" fill="none" stroke="#8080ff" stroke-width="1.0" stroke-linejoin="round"/>
<circle cx="302.00" cy="147.76" r="1.9" fill="#0000ff"/>
<circle cx="306.42" cy="147.76" r="1.9" fill="#0000ff"/>
<circle cx="310.84" cy="147.76" r="1.9" fill="#0000ff"/>
<circle cx="315.26" cy="147.76" r="1.9" fill="#0000ff"/>
<circle cx="319.68" cy="147.76" r="1.9" fill="#0000ff"/>
<circle cx="355.04" cy="182.98" r="1.9" fill="#0000ff"/>
<circle cx="368.30" cy="182.98" r="1.9" fill="#0000ff"/>
<circle cx="408.08" cy="200.59" r="1.9" fill="#0000ff"/>
<path d="M454.80 137.30H464.80" stroke="#8080ff" stroke-width="1.0" fill="none"/>
<circle cx="459.80" cy="137.30" r="1.9" fill="#0000ff"/>
<text transform="translate(469.80 139.80) scale(0.925 1)" class="lg">Ctrl - NO<tspan class="lsub" dy="1.3">2</tspan><tspan class="lsup" dy="-4.3">−</tspan></text>
<path d="M454.80 150.40H464.80" stroke="#ff8080" stroke-width="1.0" fill="none"/>
<rect x="458.00" y="148.60" width="3.60" height="3.60" fill="#ff0000"/>
<text transform="translate(469.80 152.90) scale(0.925 1)" class="lg">14 - Urea</text>
<path d="M454.80 162.50H464.80" stroke="#80e080" stroke-width="1.0" fill="none"/>
<path d="M459.80 160.20L462.30 164.50L457.30 164.50Z" fill="#00c000"/>
<text transform="translate(469.80 165.00) scale(0.925 1)" class="lg">15 - PABA</text>
<path d="M454.80 174.40H464.80" stroke="#cc80ff" stroke-width="1.0" fill="none"/>
<path d="M459.80 176.70L462.30 172.60L457.30 172.60Z" fill="#9900ff"/>
<text transform="translate(469.80 176.90) scale(0.925 1)" class="lg">16 - Cysteine</text>
<path d="M454.80 186.30H464.80" stroke="#ffc080" stroke-width="1.0" fill="none"/>
<path d="M459.80 184.30L461.80 186.30L459.80 188.30L457.80 186.30Z" fill="#ff8000"/>
<text transform="translate(469.80 188.80) scale(0.925 1)" class="lg">17 - Sodium sulfite</text>
<path d="M454.80 198.40H464.80" stroke="#808080" stroke-width="1.0" fill="none"/>
<circle cx="459.80" cy="198.40" r="1.9" fill="#000000"/>
<text transform="translate(469.80 200.90) scale(0.925 1)" class="lg">18 - Ammonium sulfate</text>
<path d="M454.80 210.30H464.80" stroke="#d0b08c" stroke-width="1.0" fill="none"/>
<rect x="457.50" y="208.00" width="4.60" height="4.60" fill="#a0601a"/>
<text transform="translate(469.80 212.80) scale(0.925 1)" class="lg">19 - Ammonium chloride</text>
</svg>
</body></html>
